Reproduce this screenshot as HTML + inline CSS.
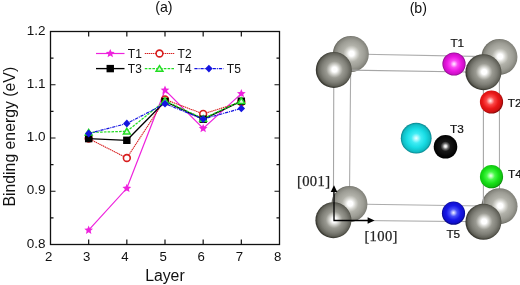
<!DOCTYPE html>
<html><head><meta charset="utf-8"><title>Binding energy figure</title>
<style>html,body{margin:0;padding:0;background:#fff}body{width:520px;height:285px;overflow:hidden}svg{display:block;filter:blur(0.35px)}</style>
</head><body>
<svg width="520" height="285" viewBox="0 0 520 285">
<defs>
<radialGradient id="gL" cx="0.52" cy="0.49" r="0.5"><stop offset="0" stop-color="#fff"/><stop offset="0.14" stop-color="#fff"/><stop offset="0.3" stop-color="#d6d6d0"/><stop offset="0.46" stop-color="#b2b2aa"/><stop offset="0.75" stop-color="#9c9c94"/><stop offset="0.92" stop-color="#86867e"/><stop offset="1" stop-color="#6c6c64"/></radialGradient>
<radialGradient id="gD" cx="0.52" cy="0.49" r="0.5"><stop offset="0" stop-color="#fff"/><stop offset="0.14" stop-color="#fff"/><stop offset="0.3" stop-color="#ccccc6"/><stop offset="0.46" stop-color="#9a9a92"/><stop offset="0.72" stop-color="#7e7e76"/><stop offset="0.9" stop-color="#62625a"/><stop offset="0.97" stop-color="#48483f"/><stop offset="1" stop-color="#383832"/></radialGradient>
<radialGradient id="gM" cx="0.5" cy="0.5" r="0.5"><stop offset="0" stop-color="#fff0ff"/><stop offset="0.1" stop-color="#ffc0ff"/><stop offset="0.32" stop-color="#fb48f4"/><stop offset="0.62" stop-color="#ea18e2"/><stop offset="0.88" stop-color="#cc10c6"/><stop offset="1" stop-color="#8a0888"/></radialGradient>
<radialGradient id="gR" cx="0.45" cy="0.45" r="0.55"><stop offset="0" stop-color="#fff0f0"/><stop offset="0.1" stop-color="#ffc0c0"/><stop offset="0.32" stop-color="#fb4848"/><stop offset="0.62" stop-color="#ea1818"/><stop offset="0.88" stop-color="#cc1010"/><stop offset="1" stop-color="#880808"/></radialGradient>
<radialGradient id="gG" cx="0.47" cy="0.46" r="0.55"><stop offset="0" stop-color="#f0fff0"/><stop offset="0.1" stop-color="#c0ffc0"/><stop offset="0.32" stop-color="#48f848"/><stop offset="0.62" stop-color="#18e018"/><stop offset="0.88" stop-color="#10c010"/><stop offset="1" stop-color="#087808"/></radialGradient>
<radialGradient id="gB" cx="0.5" cy="0.48" r="0.5"><stop offset="0" stop-color="#f0f0ff"/><stop offset="0.1" stop-color="#c0c4ff"/><stop offset="0.32" stop-color="#4850f8"/><stop offset="0.62" stop-color="#1818e8"/><stop offset="0.88" stop-color="#1010cc"/><stop offset="1" stop-color="#080888"/></radialGradient>
<radialGradient id="gK" cx="0.5" cy="0.48" r="0.5"><stop offset="0" stop-color="#fff"/><stop offset="0.1" stop-color="#e4e4e4"/><stop offset="0.25" stop-color="#6c6c6c"/><stop offset="0.42" stop-color="#181818"/><stop offset="1" stop-color="#000"/></radialGradient>
<radialGradient id="gC" cx="0.5" cy="0.5" r="0.5"><stop offset="0" stop-color="#f0ffff"/><stop offset="0.1" stop-color="#b8fbff"/><stop offset="0.32" stop-color="#40ecf4"/><stop offset="0.62" stop-color="#18dce4"/><stop offset="0.88" stop-color="#10bcc4"/><stop offset="1" stop-color="#08848c"/></radialGradient>
</defs>
<rect width="520" height="285" fill="#fff"/>
<g font-family="Liberation Sans, Arial, sans-serif" fill="#111">
<text x="163.9" y="12.4" font-size="14.2" text-anchor="middle">(a)</text>
<polyline points="88.67,230.20 126.83,188.30 165.00,90.20 203.17,128.50 241.33,93.60" fill="none" stroke="#ee22dd" stroke-width="1.2"/>
<polygon points="88.67,225.60 89.90,228.50 93.04,228.78 90.66,230.85 91.37,233.92 88.67,232.30 85.96,233.92 86.67,230.85 84.29,228.78 87.43,228.50" fill="#ee22dd"/>
<polygon points="126.83,183.70 128.07,186.60 131.21,186.88 128.83,188.95 129.54,192.02 126.83,190.40 124.13,192.02 124.84,188.95 122.46,186.88 125.60,186.60" fill="#ee22dd"/>
<polygon points="165.00,85.60 166.23,88.50 169.37,88.78 167.00,90.85 167.70,93.92 165.00,92.30 162.30,93.92 163.00,90.85 160.63,88.78 163.77,88.50" fill="#ee22dd"/>
<polygon points="203.17,123.90 204.40,126.80 207.54,127.08 205.16,129.15 205.87,132.22 203.17,130.60 200.46,132.22 201.17,129.15 198.79,127.08 201.93,126.80" fill="#ee22dd"/>
<polygon points="241.33,89.00 242.57,91.90 245.71,92.18 243.33,94.25 244.04,97.32 241.33,95.70 238.63,97.32 239.34,94.25 236.96,92.18 240.10,91.90" fill="#ee22dd"/>
<polyline points="88.67,138.60 126.83,158.00 165.00,99.50 203.17,113.90 241.33,102.00" fill="none" stroke="#d81e1e" stroke-width="1.1" stroke-dasharray="1.4 0.6"/>
<circle cx="88.67" cy="138.60" r="3.4" fill="#fff" stroke="#d81e1e" stroke-width="1.6"/>
<circle cx="126.83" cy="158.00" r="3.4" fill="#fff" stroke="#d81e1e" stroke-width="1.6"/>
<circle cx="165.00" cy="99.50" r="3.4" fill="#fff" stroke="#d81e1e" stroke-width="1.6"/>
<circle cx="203.17" cy="113.90" r="3.4" fill="#fff" stroke="#d81e1e" stroke-width="1.6"/>
<circle cx="241.33" cy="102.00" r="3.4" fill="#fff" stroke="#d81e1e" stroke-width="1.6"/>
<polyline points="88.67,138.60 126.83,140.30 165.00,101.50 203.17,119.20 241.33,101.20" fill="none" stroke="#000" stroke-width="1.35"/>
<rect x="84.97" y="134.90" width="7.4" height="7.4" fill="#000"/>
<rect x="123.13" y="136.60" width="7.4" height="7.4" fill="#000"/>
<rect x="161.30" y="97.80" width="7.4" height="7.4" fill="#000"/>
<rect x="199.47" y="115.50" width="7.4" height="7.4" fill="#000"/>
<rect x="237.63" y="97.50" width="7.4" height="7.4" fill="#000"/>
<polyline points="88.67,132.50 126.83,131.30 165.00,100.80 203.17,118.60 241.33,100.80" fill="none" stroke="#22dd22" stroke-width="1.2" stroke-dasharray="2.6 1.2"/>
<polygon points="88.67,129.50 92.07,135.10 85.27,135.10" fill="#def8de" stroke="#22dd22" stroke-width="1.5" stroke-linejoin="miter"/>
<polygon points="126.83,128.30 130.23,133.90 123.43,133.90" fill="#def8de" stroke="#22dd22" stroke-width="1.5" stroke-linejoin="miter"/>
<polygon points="165.00,97.80 168.40,103.40 161.60,103.40" fill="#def8de" stroke="#22dd22" stroke-width="1.5" stroke-linejoin="miter"/>
<polygon points="203.17,115.60 206.57,121.20 199.77,121.20" fill="#def8de" stroke="#22dd22" stroke-width="1.5" stroke-linejoin="miter"/>
<polygon points="241.33,97.80 244.73,103.40 237.93,103.40" fill="#def8de" stroke="#22dd22" stroke-width="1.5" stroke-linejoin="miter"/>
<polyline points="88.67,133.50 126.83,123.50 165.00,103.70 203.17,119.10 241.33,108.40" fill="none" stroke="#1414e0" stroke-width="1.2" stroke-dasharray="3.2 0.9 1.1 0.9"/>
<polygon points="88.67,129.60 92.37,133.50 88.67,137.40 84.97,133.50" fill="#1414e0"/>
<polygon points="126.83,119.60 130.53,123.50 126.83,127.40 123.13,123.50" fill="#1414e0"/>
<polygon points="165.00,99.80 168.70,103.70 165.00,107.60 161.30,103.70" fill="#1414e0"/>
<polygon points="203.17,115.20 206.87,119.10 203.17,123.00 199.47,119.10" fill="#1414e0"/>
<polygon points="241.33,104.50 245.03,108.40 241.33,112.30 237.63,108.40" fill="#1414e0"/>
<rect x="50.5" y="31.5" width="229.0" height="213.0" fill="none" stroke="#111" stroke-width="1.3"/>
<path d="M88.67 244.5v-5M88.67 31.5v5M126.83 244.5v-5M126.83 31.5v5M165.00 244.5v-5M165.00 31.5v5M203.17 244.5v-5M203.17 31.5v5M241.33 244.5v-5M241.33 31.5v5M50.5 217.87h3M279.5 217.87h-3M50.5 191.25h5M279.5 191.25h-5M50.5 164.62h3M279.5 164.62h-3M50.5 138.00h5M279.5 138.00h-5M50.5 111.37h3M279.5 111.37h-3M50.5 84.75h5M279.5 84.75h-5M50.5 58.12h3M279.5 58.12h-3" stroke="#111" stroke-width="1.2" fill="none"/>
<text x="48.60" y="261.2" font-size="13.2" text-anchor="middle">2</text>
<text x="86.77" y="261.2" font-size="13.2" text-anchor="middle">3</text>
<text x="124.93" y="261.2" font-size="13.2" text-anchor="middle">4</text>
<text x="163.10" y="261.2" font-size="13.2" text-anchor="middle">5</text>
<text x="201.27" y="261.2" font-size="13.2" text-anchor="middle">6</text>
<text x="239.43" y="261.2" font-size="13.2" text-anchor="middle">7</text>
<text x="277.60" y="261.2" font-size="13.2" text-anchor="middle">8</text>
<text x="45.6" y="247.50" font-size="13.5" text-anchor="end">0.8</text>
<text x="45.6" y="194.25" font-size="13.5" text-anchor="end">0.9</text>
<text x="45.6" y="141.00" font-size="13.5" text-anchor="end">1.0</text>
<text x="45.6" y="87.75" font-size="13.5" text-anchor="end">1.1</text>
<text x="45.6" y="34.50" font-size="13.5" text-anchor="end">1.2</text>
<text x="164.9" y="281" font-size="15.8" text-anchor="middle">Layer</text>
<text transform="translate(14.6 136.7) rotate(-90)" font-size="15.82" text-anchor="middle">Binding energy (eV)</text>
<line x1="96" y1="53.5" x2="124.5" y2="53.5" stroke="#ee22dd" stroke-width="1.2"/>
<polygon points="110.25,48.90 111.48,51.80 114.62,52.08 112.25,54.15 112.95,57.22 110.25,55.60 107.55,57.22 108.25,54.15 105.88,52.08 109.02,51.80" fill="#ee22dd"/>
<text x="127.8" y="57.7" font-size="12">T1</text>
<line x1="144.8" y1="53.5" x2="174.2" y2="53.5" stroke="#d81e1e" stroke-width="1.1" stroke-dasharray="1.4 0.6"/>
<circle cx="159.50" cy="53.50" r="3.4" fill="#fff" stroke="#d81e1e" stroke-width="1.6"/>
<text x="177.6" y="57.7" font-size="12">T2</text>
<line x1="96" y1="68.6" x2="124.5" y2="68.6" stroke="#000" stroke-width="1.35"/>
<rect x="106.55" y="64.90" width="7.4" height="7.4" fill="#000"/>
<text x="127.8" y="72.8" font-size="12">T3</text>
<line x1="144.8" y1="68.6" x2="174.2" y2="68.6" stroke="#22dd22" stroke-width="1.2" stroke-dasharray="2.6 1.2"/>
<polygon points="159.50,65.60 162.90,71.20 156.10,71.20" fill="#def8de" stroke="#22dd22" stroke-width="1.5" stroke-linejoin="miter"/>
<text x="177.6" y="72.8" font-size="12">T4</text>
<line x1="194.4" y1="68.6" x2="223.4" y2="68.6" stroke="#1414e0" stroke-width="1.2" stroke-dasharray="3.2 0.9 1.1 0.9"/>
<polygon points="208.90,64.70 212.60,68.60 208.90,72.50 205.20,68.60" fill="#1414e0"/>
<text x="226.8" y="72.8" font-size="12">T5</text>
</g>
<g>
<path d="M350.8 54.0 L499.4 56.9 L499.5 206.2 L349.4 204.0Z" fill="none" stroke="#acacac" stroke-width="1.1"/>
<line x1="350.8" y1="54.0" x2="333.8" y2="69.9" stroke="#acacac" stroke-width="1.1"/>
<line x1="499.4" y1="56.9" x2="483.4" y2="72.2" stroke="#acacac" stroke-width="1.1"/>
<line x1="499.5" y1="206.2" x2="483.4" y2="221.8" stroke="#acacac" stroke-width="1.1"/>
<line x1="349.4" y1="204.0" x2="333.4" y2="220.2" stroke="#acacac" stroke-width="1.1"/>
<circle cx="350.8" cy="54.0" r="18" fill="url(#gL)"/>
<circle cx="499.4" cy="56.9" r="18" fill="url(#gL)"/>
<circle cx="499.5" cy="206.2" r="18" fill="url(#gL)"/>
<circle cx="349.4" cy="204.0" r="18" fill="url(#gL)"/>
<path d="M333.8 69.9 L483.4 72.2 L483.4 221.8 L333.4 220.2Z" fill="none" stroke="#a6a6a6" stroke-width="1.1"/>
<circle cx="416.2" cy="138.2" r="15.4" fill="url(#gC)"/>
<circle cx="445.5" cy="146.8" r="11.8" fill="url(#gK)"/>
<circle cx="454" cy="64" r="11.6" fill="url(#gM)"/>
<circle cx="491.5" cy="102" r="11.6" fill="url(#gR)"/>
<circle cx="491.5" cy="176.7" r="11.6" fill="url(#gG)"/>
<circle cx="453.5" cy="213.2" r="11.6" fill="url(#gB)"/>
<circle cx="333.8" cy="69.9" r="18" fill="url(#gD)"/>
<circle cx="483.4" cy="72.2" r="18" fill="url(#gD)"/>
<circle cx="483.4" cy="221.8" r="18" fill="url(#gD)"/>
<circle cx="333.4" cy="220.2" r="18" fill="url(#gD)"/>
<path d="M334 190V220.5H369" fill="none" stroke="#000" stroke-width="1.3"/>
<polygon points="334,185.2 337.3,192 330.7,192" fill="#000"/>
<polygon points="374.6,220.5 367.6,217.2 367.6,223.8" fill="#000"/>
<g font-family="Liberation Sans, Arial, sans-serif" font-size="11.8" fill="#111" stroke="#111" stroke-width="0.2">
<text x="450.4" y="46.6">T1</text>
<text x="507.8" y="106.9">T2</text>
<text x="450.0" y="132.6">T3</text>
<text x="508.0" y="177.7">T4</text>
<text x="446.4" y="238.3">T5</text>
</g>
<g font-family="Liberation Serif, Times New Roman, serif" font-size="14.6" fill="#222" stroke="#222" stroke-width="0.25">
<text x="297" y="186.4" textLength="33" lengthAdjust="spacing">[001]</text>
<text x="364.4" y="240.6" textLength="33" lengthAdjust="spacing">[100]</text>
</g>
<text x="418.3" y="12.5" font-family="Liberation Sans, Arial, sans-serif" font-size="14.2" text-anchor="middle" fill="#111">(b)</text>
</g>
</svg>
</body></html>
